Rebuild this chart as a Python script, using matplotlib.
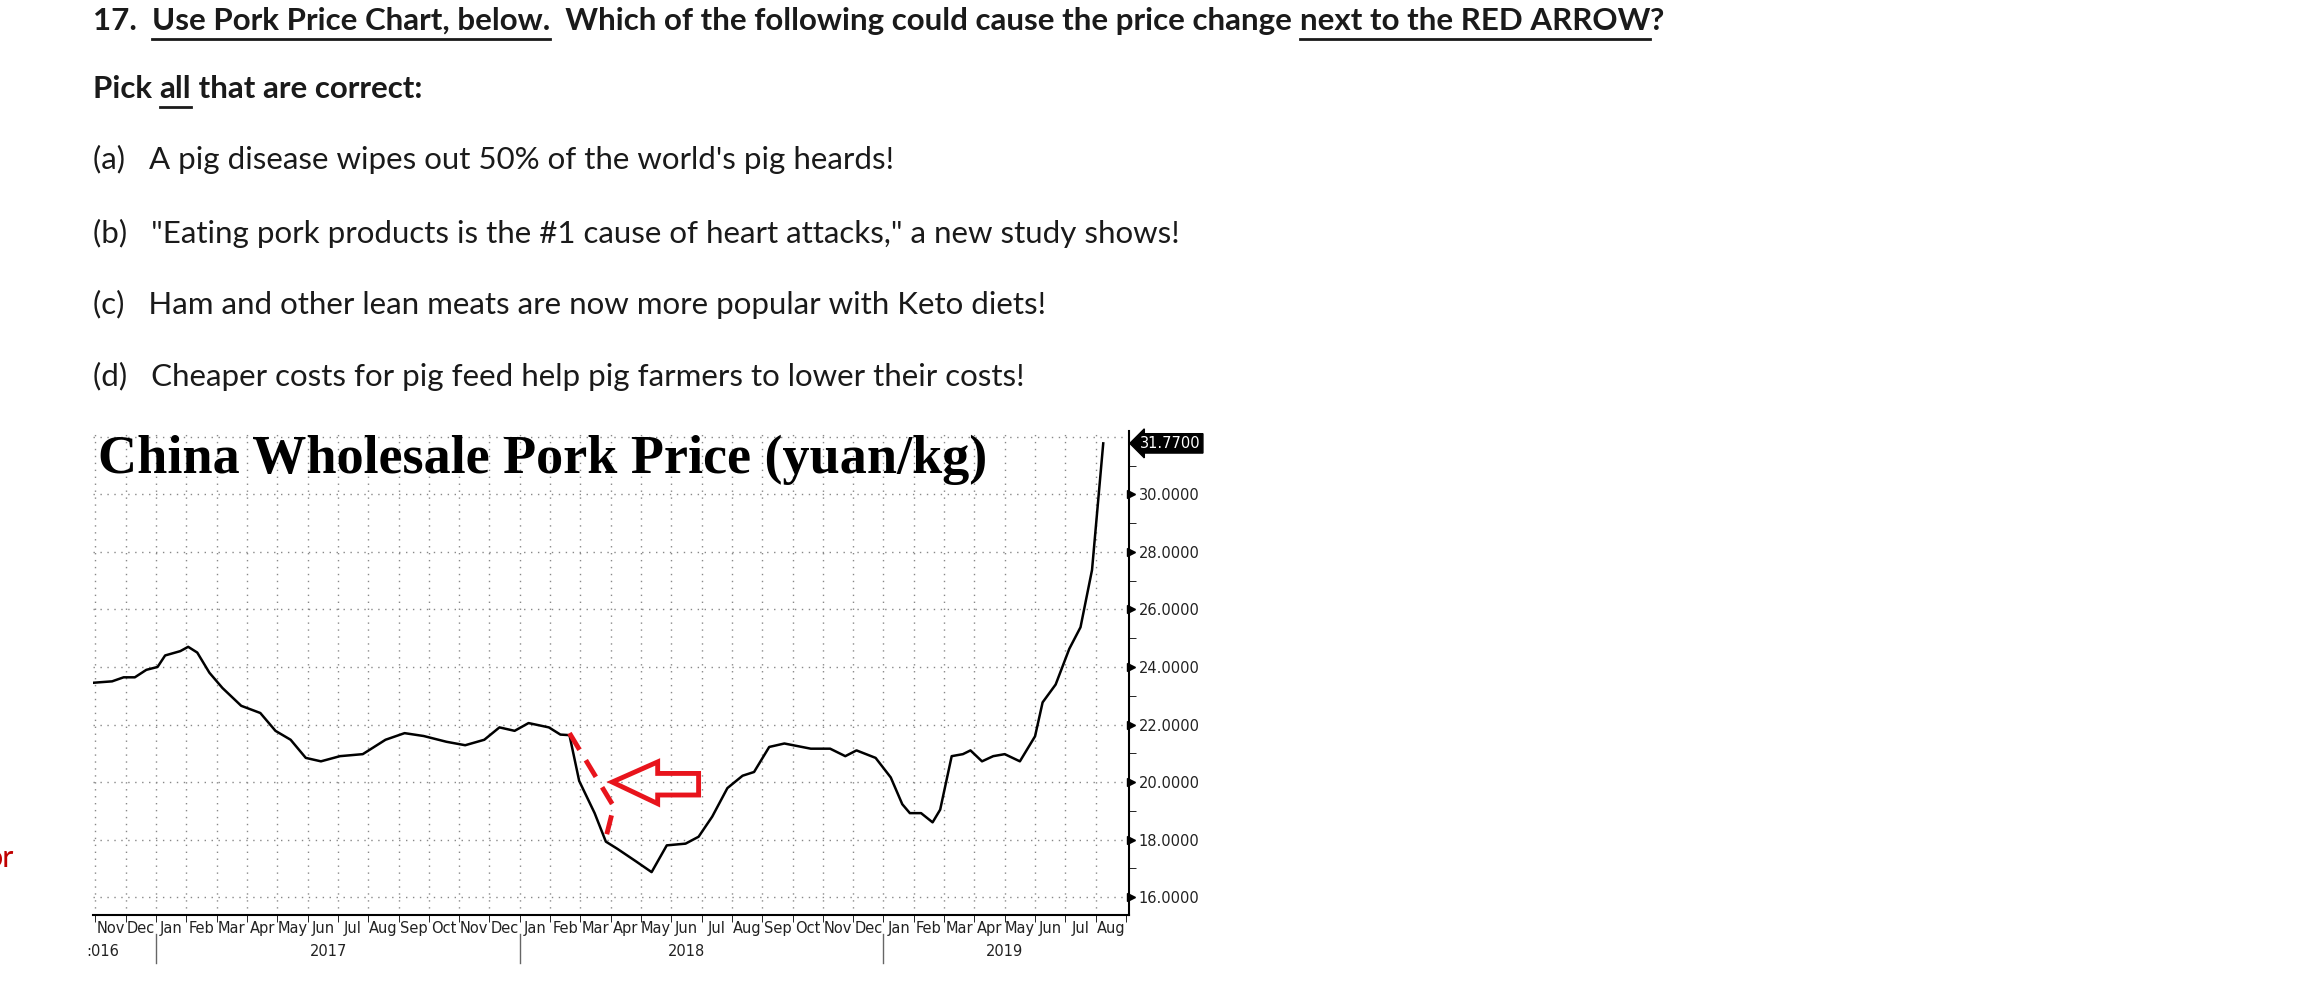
import matplotlib
matplotlib.use("Agg")
import matplotlib.pyplot as plt
from matplotlib.patches import Polygon
import numpy as np

# ---- data (month index from Nov 1 2016, price yuan/kg) ----
months = [-0.08,0.55,0.93,1.3,1.68,2.05,2.3,2.8,3.06,3.36,3.76,4.19,4.81,5.44,5.94,6.44,6.94,7.44,8.07,8.82,
          9.57,10.2,10.83,11.58,12.2,12.83,13.33,13.83,14.29,14.96,15.34,15.64,15.96,16.47,16.84,17.22,17.84,
          18.35,18.85,19.47,19.9,20.35,20.85,21.35,21.73,22.23,22.73,23.6,24.24,24.74,25.11,25.74,26.24,26.62,
          26.87,27.24,27.62,27.87,28.25,28.62,28.87,29.25,29.62,30.0,30.5,31.0,31.25,31.68,32.13,32.5,32.88,33.25]
prices = [23.45,23.5,23.64,23.64,23.9,24.0,24.4,24.55,24.7,24.5,23.8,23.27,22.65,22.4,21.78,21.47,20.84,20.72,20.9,20.97,
          21.47,21.7,21.6,21.4,21.28,21.47,21.9,21.78,22.05,21.9,21.65,21.63,20.04,18.92,17.93,17.68,17.24,
          16.87,17.8,17.86,18.1,18.8,19.79,20.22,20.35,21.22,21.34,21.16,21.16,20.9,21.1,20.84,20.16,19.23,
          18.92,18.92,18.6,19.04,20.9,20.97,21.1,20.72,20.9,20.97,20.72,21.59,22.77,23.39,24.63,25.38,27.37,31.77]
month_labels = ["Nov","Dec","Jan","Feb","Mar","Apr","May","Jun","Jul","Aug","Sep","Oct","Nov","Dec",
                "Jan","Feb","Mar","Apr","May","Jun","Jul","Aug","Sep","Oct","Nov","Dec",
                "Jan","Feb","Mar","Apr","May","Jun","Jul","Aug"]
year_labels = [":016","2017","2018","2019"]
year_pos = [0.25, 7.7, 19.5, 30.0]
year_breaks = [2, 14, 26]
y_ticks = [16,18,20,22,24,26,28,30]
last_value = 31.77
dash_x = [15.64, 17.1, 16.85]
dash_y = [21.7, 19.15, 18.1]
arrow_x = [17.05, 18.55, 18.55, 19.9, 19.9, 18.55, 18.55]
arrow_y = [20.0, 20.7, 20.3, 20.3, 19.55, 19.55, 19.25]

W, H = 2314, 1008
fig = plt.figure(figsize=(W/100, H/100), dpi=100)
fig.patch.set_facecolor("white")

def px(x, y):
    return x / W, 1 - y / H

# ---- question text ----
segs_lines = [
    (21, [("17.  ", True, False), ("Use Pork Price Chart, below.", True, True), ("  Which of the following could cause the price change ", True, False),
          ("next to the RED ARROW", True, True), ("?", True, False)]),
    (89, [("Pick ", True, False), ("all", True, True), (" that are correct:", True, False)]),
    (159, [("(a)   A pig disease wipes out 50% of the world's pig heards!", False, False)]),
    (233, [("(b)   \"Eating pork products is the #1 cause of heart attacks,\" a new study shows!", False, False)]),
    (304, [("(c)   Ham and other lean meats are now more popular with Keto diets!", False, False)]),
    (376, [("(d)   Cheaper costs for pig feed help pig farmers to lower their costs!", False, False)]),
]
fig.canvas.draw()
r = fig.canvas.get_renderer()
for ypix, segs in segs_lines:
    x = 93
    for s, b, u in segs:
        t = fig.text(*px(x, ypix), s, fontsize=22.5, family="Lato", fontweight="bold" if b else "normal",
                     va="center", ha="left", color="#1a1a1a")
        bb = t.get_window_extent(r)
        if u:
            fig.add_artist(plt.Line2D([bb.x0/W, bb.x1/W], [(H-ypix-18)/H]*2, color="#1a1a1a", lw=2))
        x += bb.width
fig.text(*px(14, 858), "or", fontsize=22, family="Lato", color="#c00000", ha="right", va="center")

# ---- chart ----
ax = fig.add_axes([93/W, 1-915/H, (1129-93)/W, (915-431)/H])
ax.set_xlim(-0.08, 34.1)
ax.set_ylim(15.38, 32.2)
ax.plot(months, prices, color="black", lw=1.8, zorder=3)
for m in range(0, 34):
    ax.axvline(m, color="#888888", ls=(0, (1, 4)), lw=1, zorder=1)
for v in y_ticks + [32]:
    ax.axhline(v, color="#888888", ls=(0, (1, 4)), lw=1, zorder=1)

ax.plot(dash_x, dash_y, color="#e8141c", lw=3.5, ls=(0, (4, 2.5)), zorder=4)
ax.add_patch(Polygon(list(zip(arrow_x, arrow_y)), closed=True, fill=False, ec="#e8141c", lw=3.5, zorder=4))

for s in ["top", "left"]:
    ax.spines[s].set_visible(False)
ax.spines["right"].set_linewidth(1.5)
ax.spines["bottom"].set_linewidth(1.5)
ax.yaxis.tick_right()
ax.set_yticks(y_ticks)
ax.set_yticklabels([f"{v:.4f}" for v in y_ticks], fontsize=10.5, family="DejaVu Sans", color="#222222")
ax.set_yticks(np.arange(17, 32, 2), minor=True)
ax.tick_params(axis="y", which="major", length=0, pad=7)
ax.tick_params(axis="y", which="minor", length=5, direction="out")
for v in y_ticks:
    ax.plot([1.002], [v], marker=">", color="black", ms=6, transform=ax.get_yaxis_transform(), clip_on=False)
ax.annotate(f"{last_value:.4f}", xy=(1.0, last_value), xycoords=("axes fraction", "data"),
            xytext=(8, 0), textcoords="offset points", fontsize=10.5, color="white", va="center", ha="left",
            bbox=dict(boxstyle="larrow,pad=0.15", fc="black", ec="black"))

ax.set_xticks(np.arange(0, 34) + 0.5)
ax.set_xticklabels(month_labels, fontsize=10.5, color="#222222")
ax.set_xticks(np.arange(0, 35), minor=True)
ax.tick_params(axis="x", which="major", length=0, pad=4)
ax.tick_params(axis="x", which="minor", length=5, direction="out")
for lbl, p in zip(year_labels, year_pos):
    ax.text(p, -0.075, lbl, transform=ax.get_xaxis_transform(), fontsize=10.5, ha="center", va="center", color="#222222")
for b in year_breaks:
    ax.plot([b, b], [-0.04, -0.1], color="#666666", lw=1, transform=ax.get_xaxis_transform(), clip_on=False)

ax.text(0.005, 0.94, "China Wholesale Pork Price (yuan/kg)", transform=ax.transAxes, fontsize=39,
        family="Liberation Serif", fontweight="bold", va="center", ha="left")

fig.savefig("out.png", dpi=100)
